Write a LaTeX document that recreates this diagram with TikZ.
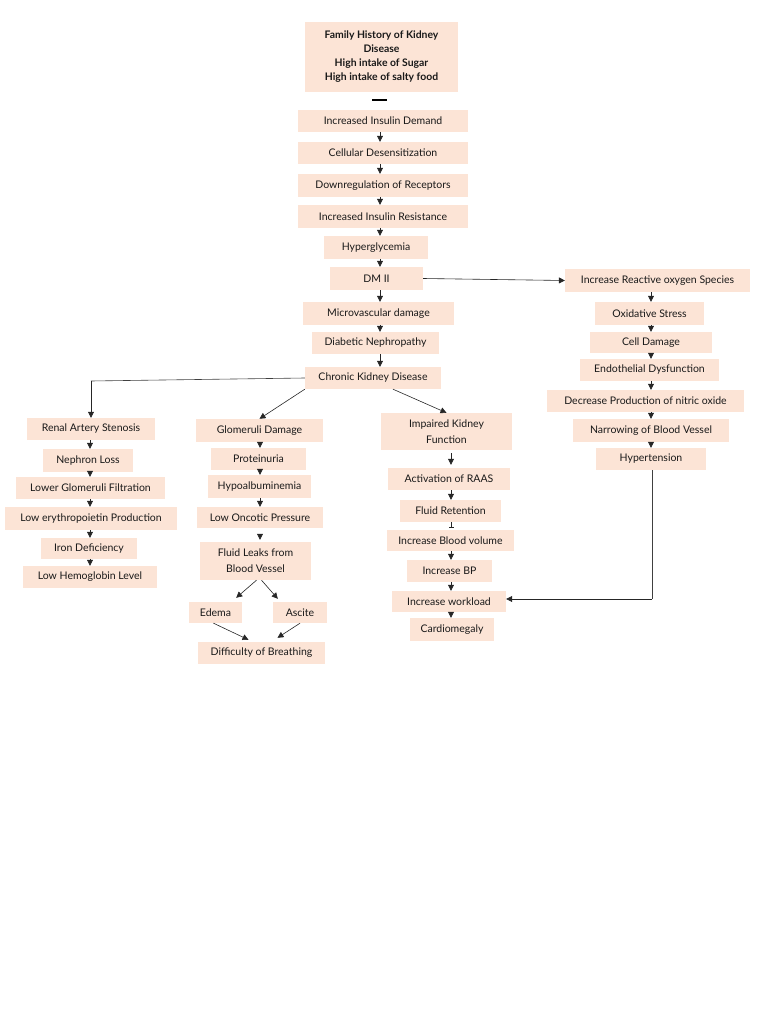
\documentclass[tikz,border=0pt]{standalone}
\usepackage{fontspec}
\setmainfont{Lato}
\usetikzlibrary{arrows.meta}
\definecolor{peach}{HTML}{FCE4D6}
\tikzset{
  bx/.style={fill=peach, inner sep=0pt, align=center, text=black!90, font=\fontsize{10.5}{16}\selectfont},
  arr/.style={draw=black!85, line width=0.6pt, -{Triangle[width=6pt,length=6pt]}},
  ln/.style={draw=black!75, line width=0.6pt},
}
\begin{document}
\begin{tikzpicture}[x=1pt,y=-1pt]
\useasboundingbox (0,0) rectangle (768,1024);
% column x references
\coordinate (mx) at (380,0);
\coordinate (rx) at (651,0);
\coordinate (lx) at (90,0);
\coordinate (sx) at (260,0);
\coordinate (tx) at (451,0);
% main column
\node[bx, minimum width=153, minimum height=70, font=\bfseries\fontsize{10.4}{14}\selectfont] (fam) at (381.5,57) {Family History of Kidney\\Disease\\High intake of Sugar\\High intake of salty food};
\node[bx, minimum width=170, minimum height=22] (iid) at (383,121) {Increased Insulin Demand};
\node[bx, minimum width=170, minimum height=22] (cd) at (383,153) {Cellular Desensitization};
\node[bx, minimum width=170, minimum height=23] (dr) at (383,185.5) {Downregulation of Receptors};
\node[bx, minimum width=170, minimum height=23] (iir) at (383,216.5) {Increased Insulin Resistance};
\node[bx, minimum width=104, minimum height=23] (hyp) at (376,247.5) {Hyperglycemia};
\node[bx, minimum width=93, minimum height=23] (dm) at (376.5,278.5) {DM II};
\node[bx, minimum width=151, minimum height=23] (mv) at (378.5,313.5) {Microvascular damage};
\node[bx, minimum width=127, minimum height=22] (dn) at (375.5,343) {Diabetic Nephropathy};
\node[bx, minimum width=136, minimum height=22] (ckd) at (373,378) {Chronic Kidney Disease};
% right column
\node[bx, minimum width=185, minimum height=23] (ros) at (657.5,280.5) {Increase Reactive oxygen Species};
\node[bx, minimum width=109, minimum height=23] (ox) at (649.5,313.5) {Oxidative Stress};
\node[bx, minimum width=122, minimum height=21] (cell) at (651,342.5) {Cell Damage};
\node[bx, minimum width=139, minimum height=22] (endo) at (649.5,370) {Endothelial Dysfunction};
\node[bx, minimum width=197, minimum height=22] (dec) at (645.5,401) {Decrease Production of nitric oxide};
\node[bx, minimum width=156, minimum height=23] (nar) at (651,430.5) {Narrowing of Blood Vessel};
\node[bx, minimum width=110, minimum height=22] (hyt) at (651,459) {Hypertension};
% left column
\node[bx, minimum width=128, minimum height=22] (ren) at (91,429) {Renal Artery Stenosis};
\node[bx, minimum width=90, minimum height=23] (nep) at (88,460.5) {Nephron Loss};
\node[bx, minimum width=149, minimum height=22] (lgf) at (90.5,488) {Lower Glomeruli Filtration};
\node[bx, minimum width=172, minimum height=23] (lep) at (91,518.5) {Low erythropoietin Production};
\node[bx, minimum width=96, minimum height=21] (iron) at (89,548.5) {Iron Deficiency};
\node[bx, minimum width=134, minimum height=22] (lhl) at (90,577) {Low Hemoglobin Level};
% second column
\node[bx, minimum width=127, minimum height=23] (gd) at (259.5,430.5) {Glomeruli Damage};
\node[bx, minimum width=95, minimum height=22] (pro) at (258.5,459) {Proteinuria};
\node[bx, minimum width=103, minimum height=23] (hypo) at (259.5,486.5) {Hypoalbuminemia};
\node[bx, minimum width=126, minimum height=21] (lop) at (260,517.5) {Low Oncotic Pressure};
\node[bx, minimum width=111, minimum height=38] (flb) at (255.5,561) {Fluid Leaks from\\Blood Vessel};
\node[bx, minimum width=53, minimum height=21] (ede) at (215.5,612.5) {Edema};
\node[bx, minimum width=54, minimum height=21] (asc) at (300,612.5) {Ascite};
\node[bx, minimum width=127, minimum height=22] (dob) at (261.5,653) {Difficulty of Breathing};
% third column
\node[bx, minimum width=131, minimum height=37] (ikf) at (446.5,431.5) {Impaired Kidney\\Function};
\node[bx, minimum width=122, minimum height=22] (raas) at (449,479) {Activation of RAAS};
\node[bx, minimum width=101, minimum height=22] (fr) at (450.5,511) {Fluid Retention};
\node[bx, minimum width=127, minimum height=21] (ibv) at (450.5,540.5) {Increase Blood volume};
\node[bx, minimum width=85, minimum height=22] (ibp) at (449.5,571) {Increase BP};
\node[bx, minimum width=114, minimum height=21] (iw) at (449,601.5) {Increase workload};
\node[bx, minimum width=84, minimum height=23] (car) at (452,629.5) {Cardiomegaly};

% dash under title
\draw[line width=1.6pt] (372,100) -- (387,100);

% main column arrows
\foreach \a/\b in {iid/cd, cd/dr, dr/iir, iir/hyp, hyp/dm, dm/mv, mv/dn, dn/ckd}
  \draw[arr] (\a.south -| mx) -- (\b.north -| mx);
% right column arrows
\foreach \a/\b in {ros/ox, ox/cell, cell/endo, endo/dec, dec/nar, nar/hyt}
  \draw[arr] (\a.south -| rx) -- (\b.north -| rx);
% left column arrows
\foreach \a/\b in {ren/nep, nep/lgf, lgf/lep, lep/iron, iron/lhl}
  \draw[arr] (\a.south -| lx) -- (\b.north -| lx);
% second column arrows
\foreach \a/\b in {gd/pro, pro/hypo, hypo/lop}
  \draw[arr] (\a.south -| sx) -- (\b.north -| sx);
\draw[arr] ([yshift=-6pt]lop.south -| sx) -- ([yshift=2pt]flb.north -| sx);
% third column arrows
\draw[arr] ([yshift=-3pt]ikf.south -| tx) -- ([yshift=3pt]raas.north -| tx);
\foreach \a/\b in {raas/fr, ibv/ibp, ibp/iw, iw/car}
  \draw[arr] (\a.south -| tx) -- (\b.north -| tx);
\draw[draw=black!85, line width=0.6pt, -{Bar[width=5pt]}] (fr.south -| tx) -- ([yshift=2pt]ibv.north -| tx);

% DM II to ROS
\draw[arr] (dm.east) -- (ros.west);
% CKD branches
\coordinate (kr) at (91,381);
\draw[ln] (ckd.west) -- (kr);
\draw[arr] (kr) -- (ren.north);
\draw[arr] (ckd.south west) -- (gd.north);
\draw[arr] ([xshift=20pt]ckd.south) -- (ikf.north);
% fluid leaks
\draw[arr] ([xshift=1pt]flb.south) -- ([xshift=-6pt,yshift=4pt]ede.north east);
\draw[arr] ([xshift=6pt]flb.south) -- ([xshift=5pt,yshift=3pt]asc.north west);
\draw[arr] ([xshift=-2pt]ede.south) -- ([xshift=-13pt,yshift=2pt]dob.north);
\draw[arr] (asc.south) -- ([xshift=16pt,yshift=4pt]dob.north);
% hypertension to workload
\coordinate (hk) at (652,599);
\draw[ln] (hyt.south -| hk) -- (hk);
\draw[arr] (hk) -- (iw.east |- hk);
\end{tikzpicture}
\end{document}
